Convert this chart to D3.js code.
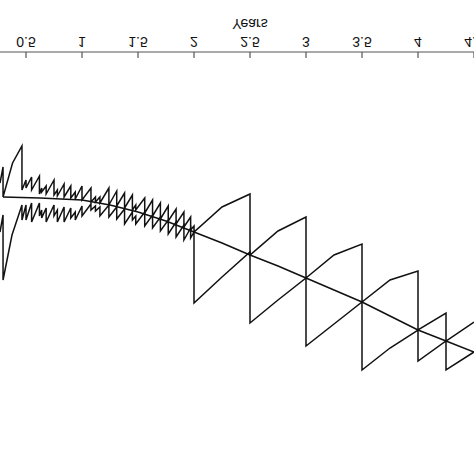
<!DOCTYPE html>
<html><head><meta charset="utf-8">
<script src="https://cdn.jsdelivr.net/npm/d3@7"></script>
<style>body{margin:0;background:#fff}svg{display:block}</style>
</head><body>
<svg id="c" width="474" height="474"></svg>
<script>
const tickValues = [0,0.5,1,1.5,2,2.5,3,3.5,4,4.5];
const tickLabels = ["0","0.5","1","1.5","2","2.5","3","3.5","4","4.5"];
const axisTitle = "Years";
// central curve (t, value)
const center = [[0.295,0.53],[0.625,0.52],[1,0.50],[1.25,0.45],[1.5,0.38],[1.75,0.29],[2,0.18],[2.25,0.07],[2.5,-0.05],[2.75,-0.16],[3,-0.28],[3.25,-0.40],[3.5,-0.52],[3.75,-0.66],[4,-0.80],[4.25,-0.91],[4.5,-1.02]];
// upper series, early part
const upperStart = [[0.268,0.67],[0.295,0.83],[0.295,0.53],[0.38,0.87],[0.464,1.04],[0.464,0.60]];
// teeth: [tStart, base, tEnd, peak]
const upperTeeth = [[0.464,.60,.50,.70],[0.50,.62,.55,.73],[0.55,.60,.62,.74],[0.62,.56,.64,.62],[0.64,.58,.68,.64],[0.68,.56,.75,.70],[0.75,.55,.78,.60],[0.78,.54,.84,.66],[0.84,.53,.90,.64],[0.90,.52,.94,.58],[0.94,.51,1.00,.64],[1.00,.50,1.08,.62],[1.08,.48,1.12,.53],[1.12,.48,1.16,.53],[1.16,.47,1.24,.62],[1.24,.45,1.31,.59],[1.31,.44,1.38,.57],[1.38,.42,1.45,.55],[1.45,.40,1.48,.45],[1.48,.40,1.56,.52],[1.56,.37,1.63,.50],[1.63,.34,1.70,.47],[1.70,.31,1.77,.44],[1.77,.29,1.84,.41],[1.84,.26,1.91,.38],[1.91,.23,1.97,.33],[1.97,.20,2.0,.24]];
const upperLate = [[2,0.18],[2.25,0.43],[2.5,0.56],[2.5,-0.05],[2.75,0.19],[3,0.33],[3,-0.28],[3.25,-0.05],[3.5,0.06],[3.5,-0.52],[3.75,-0.30],[4,-0.21],[4,-0.80],[4.25,-0.63],[4.25,-0.91],[4.5,-0.72]];
const lowerStart = [[0.268,0.18],[0.295,0.35],[0.295,-0.30],[0.375,0.15],[0.464,0.45]];
const lowerTeeth = [[0.464,.30,.50,.45],[0.50,.30,.55,.47],[0.55,.28,.62,.47],[0.62,.34,.64,.40],[0.64,.32,.68,.42],[0.68,.28,.75,.45],[0.75,.34,.78,.40],[0.78,.28,.84,.43],[0.84,.28,.90,.42],[0.90,.32,.94,.38],[0.94,.30,1.00,.44],[1.00,.34,1.08,.46],[1.08,.40,1.12,.44],[1.12,.39,1.16,.43],[1.16,.34,1.24,.45],[1.24,.33,1.31,.43],[1.31,.31,1.38,.41],[1.38,.26,1.45,.38],[1.45,.30,1.48,.34],[1.48,.26,1.56,.38],[1.56,.24,1.63,.35],[1.63,.22,1.70,.33],[1.70,.19,1.77,.30],[1.77,.16,1.84,.28],[1.84,.13,1.91,.25],[1.91,.10,1.97,.22],[1.97,.12,2.0,.18]];
const lowerLate = [[2,0.18],[2,-0.53],[2.25,-0.27],[2.5,-0.02],[2.5,-0.73],[2.75,-0.50],[3,-0.28],[3,-0.96],[3.25,-0.74],[3.5,-0.52],[3.5,-1.20],[3.75,-0.98],[4,-0.80],[4,-1.11],[4.25,-0.91],[4.25,-1.20],[4.5,-1.02]];

function teethPts(start, teeth, late){
  const p = start.slice();
  teeth.forEach(d=>{p.push([d[0],d[1]]);p.push([d[2],d[3]]);});
  return p.concat(late);
}
const svg = d3.select("#c");
const x = d3.scaleLinear().domain([0,4.5]).range([-30,474]);
const y = d3.scaleLinear().domain([-2.24,2.5]).range([474,0]);
const line = d3.line().x(d=>x(d[0])).y(d=>y(d[1]));
const axY = 52;
svg.append("line").attr("x1",0).attr("x2",474).attr("y1",axY).attr("y2",axY).attr("stroke","#555").attr("stroke-width",1.2);
tickValues.forEach((t,i)=>{
  svg.append("line").attr("x1",x(t)).attr("x2",x(t)).attr("y1",axY).attr("y2",axY+6).attr("stroke","#555").attr("stroke-width",1.2);
  svg.append("text").attr("transform",`translate(${x(t)},37) scale(1,-1)`).attr("text-anchor","middle")
    .attr("font-family","Liberation Sans, Arial, sans-serif").attr("font-size",14).attr("fill","#111").text(tickLabels[i]);
});
svg.append("text").attr("transform",`translate(250,19) scale(1,-1)`).attr("text-anchor","middle")
  .attr("font-family","Liberation Sans, Arial, sans-serif").attr("font-size",14).attr("fill","#111").text(axisTitle);
const st = s=>s.attr("fill","none").attr("stroke","#111").attr("stroke-width",1.5).attr("stroke-linejoin","miter");
st(svg.append("path").attr("d",line(center)));
st(svg.append("path").attr("d",line(teethPts(upperStart,upperTeeth,upperLate))));
st(svg.append("path").attr("d",line(teethPts(lowerStart,lowerTeeth,lowerLate))));
</script></body></html>
